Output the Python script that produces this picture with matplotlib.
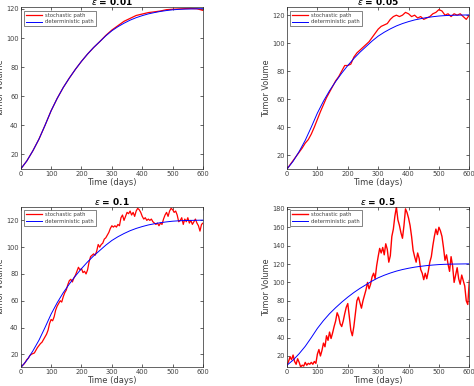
import numpy as np
import matplotlib
matplotlib.use('Agg')
import matplotlib.pyplot as plt

# --- data ---
t_det = list(range(0, 601, 20))
v_det = [10, 15.5, 22.5, 30.5, 40, 50, 58.5, 66, 72.5, 78.5, 84, 89, 93.5, 97.5,
         101.5, 105, 107.8, 110.2, 112.3, 114, 115.4, 116.6, 117.5, 118.3, 118.9,
         119.4, 119.7, 119.9, 120.0, 120.1, 120.2]

# eps = 0.01
v_s001 = [10, 15.5, 22.5, 30.5, 40, 50, 58.5, 66, 72.5, 78.5, 84, 89, 93.5, 97.5,
          101.8, 105.5, 108.5, 111.5, 113.5, 115.5, 116.5, 117.5, 118, 118.6, 119.5,
          119.8, 120, 120.2, 120.3, 120.1, 119]

# eps = 0.05 (10 day steps)
t_s005 = list(range(0, 601, 10))
v_s005 = [10, 13, 16, 19, 22, 25, 28.5, 31, 35, 40, 45.5, 51, 56, 61, 65, 69, 73, 76,
          80, 84, 84, 85, 90, 93, 95, 97, 99, 101, 104, 107, 110, 112, 113, 114, 117,
          119, 120, 119, 120, 122, 121, 119, 120, 118, 119, 117, 118, 119, 121, 122,
          124, 123, 120, 121, 119, 121, 120, 121, 119, 117, 120]

# eps = 0.1 (5 day steps)
t_s5 = list(range(0, 601, 5))
v_s01 = [10, 11.5, 12.5, 14, 16, 17, 19, 20, 20.5, 21, 23, 25, 26.5, 28, 29, 31, 33,
         35, 38, 43, 46, 45, 48, 53, 56, 58, 60, 59, 63, 66, 68, 72, 75, 76, 74, 77,
         79, 82, 85, 83, 84, 81, 82, 80, 83, 89, 93, 94, 95, 94, 97, 102, 100, 102,
         103, 106, 107, 109, 111, 114, 116, 115, 116, 115, 117, 116, 122, 124, 120,
         123, 126, 125, 127, 124, 126, 123, 127, 129, 128, 126, 123, 121, 122, 120,
         121, 120, 121, 119, 118, 117, 118, 116, 118, 117, 121, 124, 126, 123, 127,
         129, 128, 126, 127, 124, 119, 120, 122, 117, 121, 119, 122, 118, 120, 117,
         119, 121, 118, 116, 112, 117, 118]

# eps = 0.5 (5 day steps)
v_s05 = [10, 14, 19, 16, 21, 14, 11, 17, 13, 8, 10, 9, 13, 10, 12, 11, 13, 11, 14,
         12, 22, 27, 20, 26, 34, 30, 42, 37, 46, 39, 45, 52, 58, 67, 63, 55, 52, 58,
         66, 73, 77, 63, 48, 42, 52, 66, 80, 84, 78, 72, 80, 86, 92, 100, 93, 98,
         106, 110, 104, 118, 128, 137, 132, 138, 130, 142, 136, 122, 129, 150, 158,
         172, 182, 168, 162, 154, 148, 162, 180, 176, 170, 162, 150, 135, 128, 122,
         132, 126, 114, 110, 103, 110, 104, 112, 122, 128, 140, 150, 158, 152, 160,
         156, 150, 138, 124, 130, 120, 112, 128, 118, 100, 108, 116, 104, 98, 108,
         102, 96, 80, 76, 102]

titles = ['0.01', '0.05', '0.1', '0.5']
stoch_t = [t_det, t_s005, t_s5, t_s5]
stoch_v = [v_s001, v_s005, v_s01, v_s05]
ylims = [(10, 121), (10, 125.5), (10.5, 130), (8, 182)]
yticks = [range(20, 121, 20), range(20, 121, 20), range(20, 121, 20), range(20, 181, 20)]

fig = plt.figure(figsize=(4.74, 3.86), dpi=100)
w, h_top, h_bot = 0.3846, 0.4184, 0.4145
boxes = [(0.0437, 0.5622, w, h_top), (0.6055, 0.5622, w, h_top),
         (0.0437, 0.0492, w, h_bot), (0.6055, 0.0492, w, h_bot)]

axc = '#262626'
txtc = '#404040'
for i in range(4):
    ax = fig.add_axes(boxes[i])
    ax.plot(stoch_t[i], stoch_v[i], color='#ff0000', lw=1.0 if i == 3 else 0.9,
            label='stochastic path')
    ax.plot(t_det, v_det, color='#0000ff', lw=0.7, label='deterministic path')
    ax.set_xlim(0, 600)
    ax.set_ylim(*ylims[i])
    ax.set_xticks(range(0, 601, 100))
    ax.set_yticks(list(yticks[i]))
    ax.tick_params(direction='in', top=True, right=True, length=2, width=0.5,
                   labelsize=4.8, colors=axc, labelcolor=txtc, pad=1.5)
    for s in ax.spines.values():
        s.set_linewidth(0.5)
        s.set_color(axc)
    ax.set_xlabel('Time (days)', fontsize=6, color=txtc, labelpad=1)
    ax.set_ylabel('Tumor Volume', fontsize=5.8, color=txtc, labelpad=1)
    ax.set_title(r'$\epsilon$ = ' + titles[i], fontsize=6.5, fontweight='bold', pad=1.5)
    leg = ax.legend(loc='upper left', fontsize=3.8, frameon=True, fancybox=False,
                    handlelength=3.0, handletextpad=0.6, borderpad=0.4,
                    labelspacing=0.3, borderaxespad=0.6)
    leg.get_frame().set_edgecolor(axc)
    leg.get_frame().set_linewidth(0.5)
    for txt in leg.get_texts():
        txt.set_color(txtc)

fig.savefig('out.png', dpi=100)
